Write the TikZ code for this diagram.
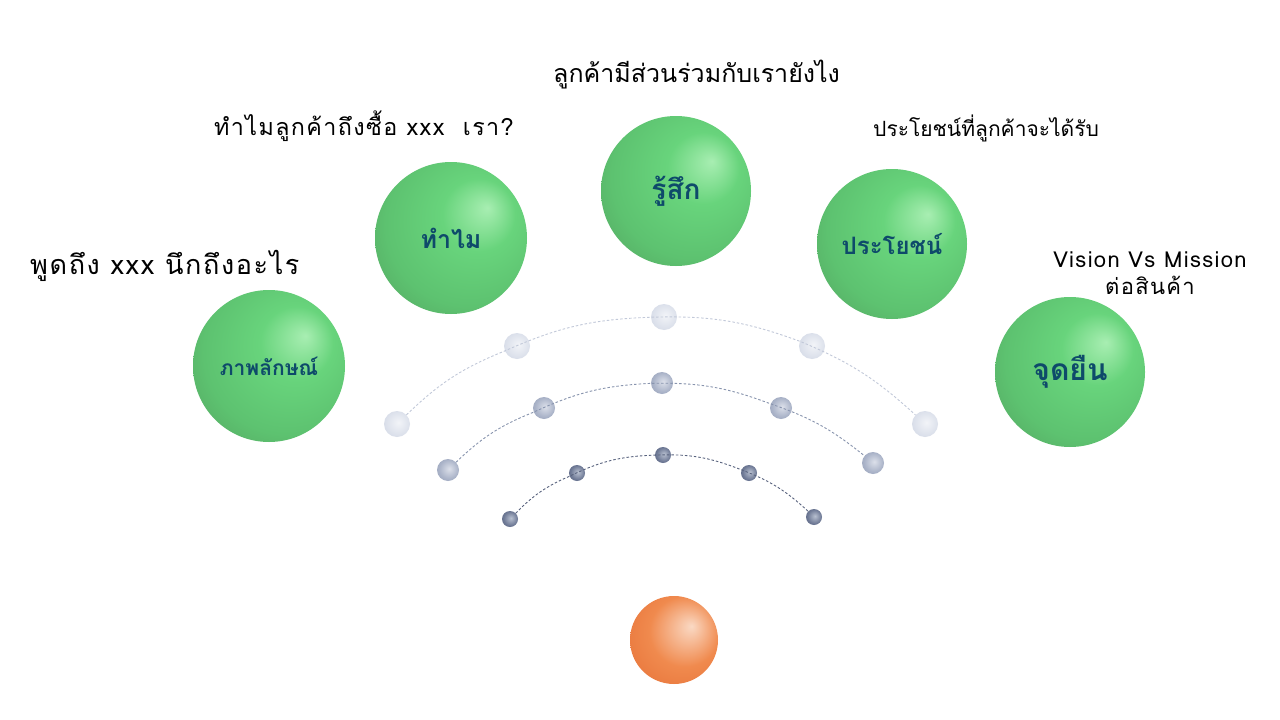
\documentclass[tikz,border=0pt]{standalone}
\usepackage{fontspec}
\setmainfont[Script=Thai]{Loma}
\newfontfamily\thaifont[Script=Thai]{Loma}
\newfontfamily\thaiwide[Script=Thai,LetterSpace=6]{Loma}
\definecolor{gH}{HTML}{A8EEB2}
\definecolor{gM}{HTML}{68D47C}
\definecolor{gN}{HTML}{5DC270}
\definecolor{gD}{HTML}{519E5C}
\definecolor{gE}{HTML}{467B4C}
\definecolor{oH}{HTML}{FAD9C4}
\definecolor{oM}{HTML}{F08A4E}
\definecolor{oE}{HTML}{E1632A}
\definecolor{lH}{HTML}{F2F4F8}
\definecolor{lM}{HTML}{DADFEA}
\definecolor{lE}{HTML}{C2C9D9}
\definecolor{mH}{HTML}{DCE0EA}
\definecolor{mM}{HTML}{AAB3C8}
\definecolor{mE}{HTML}{8894AE}
\definecolor{dH}{HTML}{B8C0D0}
\definecolor{dM}{HTML}{6E7995}
\definecolor{dE}{HTML}{465270}
\definecolor{labelblue}{HTML}{0E4A6A}
\pgfdeclareradialshading{gball}{\pgfpoint{12bp}{10bp}}{color(0bp)=(gH); color(12bp)=(gM); color(27bp)=(gN); color(41bp)=(gD); color(50bp)=(gE)}
\pgfdeclareradialshading{oball}{\pgfpoint{10bp}{8bp}}{color(0bp)=(oH); color(20bp)=(oM); color(50bp)=(oE)}
\pgfdeclareradialshading{lball}{\pgfpoint{3bp}{3bp}}{color(0bp)=(lH); color(25bp)=(lM); color(50bp)=(lE)}
\pgfdeclareradialshading{mball}{\pgfpoint{3bp}{3bp}}{color(0bp)=(mH); color(22bp)=(mM); color(50bp)=(mE)}
\pgfdeclareradialshading{dball}{\pgfpoint{3bp}{3bp}}{color(0bp)=(dH); color(22bp)=(dM); color(50bp)=(dE)}
\begin{document}
\begin{tikzpicture}[x=1pt,y=-1pt,
  bigball/.style={circle,inner sep=0pt,minimum size=150pt,shading=gball,
     text=labelblue,font=\thaifont\bfseries\fontsize{25}{29}\selectfont},
  orangeball/.style={circle,inner sep=0pt,minimum size=88pt,shading=oball},
  lightdot/.style={circle,inner sep=0pt,minimum size=26pt,shading=lball},
  middot/.style={circle,inner sep=0pt,minimum size=22pt,shading=mball},
  darkdot/.style={circle,inner sep=0pt,minimum size=16pt,shading=dball},
  arcA/.style={draw=lE,line width=0.9pt,dash pattern=on 2.5pt off 2pt},
  arcB/.style={draw=mE,line width=0.9pt,dash pattern=on 2.5pt off 2pt},
  arcC/.style={draw=dE!90,line width=0.9pt,dash pattern=on 2.5pt off 2pt},
  caption/.style={inner sep=0pt,text=black,font=\thaifont\fontsize{25}{29}\selectfont}]
\useasboundingbox[fill=white] (0,0) rectangle (1280,720);

% big green balls
\node[bigball,minimum size=152pt,font=\thaifont\bfseries\fontsize{21}{24}\selectfont] (image) at (269,366) {ภาพลักษณ์};
\node[bigball,minimum size=152pt] (why) at (451,238) {ทำไม};
\node[bigball,font=\thaifont\bfseries\fontsize{28}{32}\selectfont] (feel) at (676,191) {รู้สึก};
\node[bigball,font=\thaifont\bfseries\fontsize{24}{28}\selectfont] (benefit) at (892,244) {ประโยชน์};
\node[bigball,font=\thaifont\bfseries\fontsize{30}{34}\selectfont] (stand) at (1070,372) {จุดยืน};

% orange ball
\node[orangeball] (core) at (674,640) {};

% outer arc
\node[lightdot] (a1) at (397,424) {};
\node[lightdot] (a2) at (517,346) {};
\node[lightdot] (a3) at (664,317) {};
\node[lightdot] (a4) at (812,346) {};
\node[lightdot] (a5) at (925,424) {};
% middle arc
\node[middot] (b1) at (448,470) {};
\node[middot] (b2) at (544,408) {};
\node[middot] (b3) at (662,383) {};
\node[middot] (b4) at (781,408) {};
\node[middot] (b5) at (873,463) {};
% inner arc
\node[darkdot] (c1) at (510,519) {};
\node[darkdot] (c2) at (577,473) {};
\node[darkdot] (c3) at (663,455) {};
\node[darkdot] (c4) at (749,473) {};
\node[darkdot] (c5) at (814,517) {};

\draw[arcA] (a1) to[bend left=11] (a2) to[bend left=11] (a3) to[bend left=11] (a4) to[bend left=10] (a5);
\draw[arcB] (b1) to[bend left=11] (b2) to[bend left=11] (b3) to[bend left=11] (b4) to[bend left=10] (b5);
\draw[arcC] (c1) to[bend left=11] (c2) to[bend left=12] (c3) to[bend left=12] (c4) to[bend left=11] (c5);

% captions
\node[caption,anchor=west,font=\thaiwide\fontsize{27}{31}\selectfont] (t1) at (30,266) {พูดถึง xxx นึกถึงอะไร};
\node[caption,anchor=west,font=\thaiwide\fontsize{23.3}{27}\selectfont] (t2) at (214,126) {ทำไมลูกค้าถึงซื้อ xxx \ เรา?};
\node[caption,anchor=west] (t3) at (553,75) {ลูกค้ามีส่วนร่วมกับเรายังไง};
\node[caption,anchor=west,font=\thaifont\fontsize{21}{24}\selectfont] (t4) at (873,128) {ประโยชน์ที่ลูกค้าจะได้รับ};
\node[caption,align=center,font=\thaiwide\fontsize{22}{27}\selectfont] (t5) at (1150,273) {Vision Vs Mission\\ต่อสินค้า};
\end{tikzpicture}
\end{document}
